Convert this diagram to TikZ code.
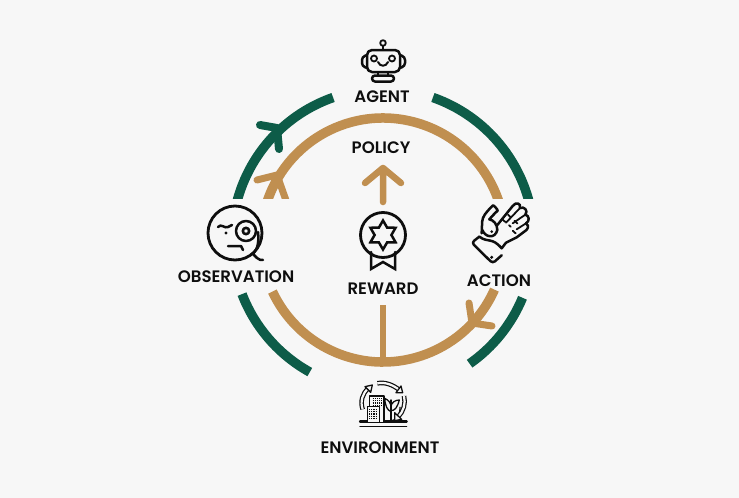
\documentclass[tikz,border=0pt]{standalone}
\usepackage{fontspec}
\setmainfont{Poppins SemiBold}
\definecolor{bgc}{HTML}{F7F7F7}
\definecolor{grn}{HTML}{0D5C48}
\definecolor{tan1}{HTML}{C08F50}
\definecolor{ink}{HTML}{0E0E0E}
\tikzset{
  lbl/.style={font=\fontsize{16.6}{19}\selectfont,text=ink,inner sep=0pt},
  grnarc/.style={draw=grn,line width=9.5pt,line cap=butt},
  tanarc/.style={draw=tan1,line width=9.5pt,line cap=butt},
  grnbarb/.style={draw=grn,line width=8pt,line cap=round},
  tanbarb/.style={draw=tan1,line width=7pt,line cap=round},
  icon/.style={draw=ink,line width=2.5pt,line cap=round,line join=round},
  iconthin/.style={draw=ink,line width=1.3pt,line cap=round,line join=round},
  zoomed/.style={x=0.33333pt,y=-0.33333pt}
}
\begin{document}
\begin{tikzpicture}[x=1pt,y=1pt]
\useasboundingbox (0,0) rectangle (739,-498);
\fill[bgc] (0,0) rectangle (739,-498);
\coordinate (c) at (383,-240);
% labels
\node[lbl] (agent) at (382,-96.5) {AGENT};
\node[lbl] (policy) at (381,-147.5) {POLICY};
\node[lbl] (reward) at (383,-288.5) {REWARD};
\node[lbl] (observation) at (236,-276.5) {OBSERVATION};
\node[lbl] (action) at (499,-280.5) {ACTION};
\node[lbl] (environment) at (380,-447.5) {ENVIRONMENT};
% upper arcs cut flat at y=198
\begin{scope}
\clip (0,0) rectangle (739,-198);
\draw[grnarc] (c) ++(172:151) arc (172:109.3:151);
\draw[grnarc] (c) ++(70.7:151) arc (70.7:8:151);
\draw[tanarc] (c) ++(172:122) arc (172:8:122);
\coordinate (gt) at (277,-128);
\coordinate (tt) at (277,-175);
\coordinate (tb1) at (257,-180);
\coordinate (tb2) at (288,-206);
\draw[tanbarb] (tt) -- (tb1);
\draw[tanbarb,line cap=butt] (tt) -- (tb2);
\end{scope}
\coordinate (gb1) at (260,-125);
\coordinate (gb2) at (279,-149);
\draw[grnbarb] (gt) -- (gb1);
\draw[grnbarb] (gt) -- (gb2);
% lower arcs
\draw[grnarc] (c) ++(-22.5:151) arc (-22.5:-55:151);
\draw[grnarc] (c) ++(-159:151) arc (-159:-119:151);
\draw[tanarc] (c) ++(-24:122) arc (-24:-155:122);
\coordinate (ta) at (472,-323);
\coordinate (ta1) at (469,-303);
\coordinate (ta2) at (492,-326);
\draw[tanbarb] (ta) -- (ta1);
\draw[tanbarb] (ta) -- (ta2);
% reward connectors
\coordinate (ub) at (383,-202);
\coordinate (ut) at (383,-168);
\coordinate (ul) at (365,-183);
\coordinate (ur) at (401,-183);
\draw[draw=tan1,line width=6.5pt,line cap=round,line join=round] (ub) -- (ut) (ul) -- (ut) -- (ur);
\coordinate (vt) at (383,-305);
\coordinate (vb) at (383,-362);
\draw[draw=tan1,line width=6.5pt] (vt) -- (vb);
% robot
\begin{scope}
\draw[icon,line width=1.8pt] (383,-43) circle (2.8);
\draw[icon,line width=1.8pt] (383,-46) -- (383,-50);
\draw[icon,rounded corners=5pt] (367,-50) rectangle (400,-72);
\draw[icon,rounded corners=3pt] (367,-55) -- (362,-57) -- (362,-66) -- (367,-68);
\draw[icon,rounded corners=3pt] (400,-55) -- (405,-57) -- (405,-66) -- (400,-68);
\draw[icon,line width=1.8pt] (374,-58.5) circle (3);
\draw[icon,line width=1.8pt] (392,-58.5) circle (3);
\draw[icon,line width=2pt] (378,-62) .. controls (380,-67) and (386,-67) .. (388,-62);
\draw[icon,line width=1.8pt] (378,-72) -- (378,-75) (388,-72) -- (388,-75);
\draw[icon,rounded corners=3pt] (372,-75.5) rectangle (394,-81.5);
\end{scope}
% observation face
\begin{scope}
\draw[icon,line width=2.8pt] (235,-233) circle (27);
\fill[bgc] (246,-231) circle (11);
\draw[icon] (246,-231) circle (10);
\draw[icon,line width=2.6pt] (246,-231) circle (3.2);
\draw[icon] (258,-232) .. controls (259,-241) and (258,-249) .. (253,-254) -- (257,-258) .. controls (259,-260) and (261,-260) .. (263,-260);
\draw[icon] (218,-227) .. controls (221,-223) and (225,-229) .. (228,-227) -- (232,-225);
\fill[ink] (226,-233) circle (1.6);
\draw[icon] (228,-246) -- (241,-246) -- (243,-250);
\end{scope}
% reward badge
\begin{scope}
\draw[icon,line width=2.8pt] (383,-235) circle (22.5);
\begin{scope}[shift={(383,-235)}]
\draw[icon,line join=miter] (90:14.5) -- (120:8.4) -- (150:14.5) -- (180:8.4) -- (210:14.5) -- (240:8.4) -- (270:14.5) -- (300:8.4) -- (330:14.5) -- (0:8.4) -- (30:14.5) -- (60:8.4) -- cycle;
\end{scope}
\draw[icon,line join=miter] (371,-252) -- (371,-269) -- (383,-262) -- (395,-269) -- (395,-252);
\end{scope}
% hand
\begin{scope}[xshift=440pt,yshift=-180pt,zoomed]
\draw[icon,rounded corners=3pt] (118,170) -- (95,188) -- (158,250) -- (185,226);
\fill[ink] (155,232) circle (5);
% thumb and palm
\draw[icon,rounded corners=4pt] (125,160) -- (127,113) -- (150,84) .. controls (160,75) and (175,90) .. (164,100) -- (148,118);
\draw[icon] (127,150) .. controls (135,172) and (165,178) .. (172,150) .. controls (172,132) and (160,120) .. (148,118);
\fill[ink] (155,155) circle (4.5);
% wrist
\draw[icon] (118,170) .. controls (145,190) and (155,170) .. (185,205) -- (198,188);
% fingers
\draw[icon] (172,135) -- (218,78) .. controls (228,64) and (244,70) .. (240,84);
\draw[icon] (240,84) .. controls (252,78) and (266,92) .. (256,104);
\draw[icon] (256,104) .. controls (268,106) and (270,124) .. (258,130);
\draw[icon] (258,130) .. controls (270,138) and (262,150) .. (254,154) -- (230,172) -- (198,188);
\draw[icon,line width=1.8pt] (198,128) -- (240,84) (218,130) -- (256,104) (230,148) -- (258,130);
\draw[icon,line width=1.8pt,dash pattern=on 4pt off 5pt] (187,118) -- (212,140) (204,104) -- (235,133) (218,152) -- (238,170);
\end{scope}
% environment
\begin{scope}[xshift=310pt,yshift=-370pt,zoomed]
\draw[icon,line width=2.4pt] (150,155) -- (290,155);
\draw[iconthin] (150,170) -- (290,170);
\draw[iconthin,line width=1.6pt,fill=bgc] (178,155) -- (178,78) -- (222,78) -- (222,155);
\draw[iconthin,line width=1.6pt,fill=bgc] (172,155) -- (172,110) -- (208,110) -- (208,155);
\foreach \yy in {85,92,99,106}{\draw[ink,line width=1.2pt,dash pattern=on 1.2pt off 1pt] (188,\yy) -- (216,\yy);}
\foreach \yy in {118,125,132,139,146}{\draw[ink,line width=1.2pt,dash pattern=on 1.2pt off 1pt] (177,\yy) -- (203,\yy);}
\draw[iconthin,line width=1.5pt] (243,155) -- (243,90);
\draw[iconthin] (243,125) .. controls (232,120) and (226,110) .. (224,85) .. controls (236,90) and (243,100) .. (243,110);
\draw[iconthin] (243,122) .. controls (255,122) and (262,112) .. (268,90) .. controls (255,90) and (245,98) .. (243,108);
\draw[iconthin] (245,152) .. controls (262,150) and (270,135) .. (270,112);
% circular arrows
\draw[ink,line width=4.6pt] (202,40) .. controls (225,35) and (250,45) .. (268,60);
\draw[bgc,line width=2.2pt] (202,40) .. controls (225,35) and (250,45) .. (268,60);
\draw[iconthin,fill=bgc] (258,68) -- (278,68) -- (273,48) -- cycle;
\draw[ink,line width=4.6pt] (158,118) .. controls (150,95) and (157,70) .. (175,55);
\draw[bgc,line width=2.2pt] (158,118) .. controls (150,95) and (157,70) .. (175,55);
\draw[iconthin,fill=bgc] (165,50) -- (187,45) -- (182,67) -- cycle;
\draw[ink,line width=4.6pt] (282,78) .. controls (288,100) and (280,125) .. (265,140);
\draw[bgc,line width=2.2pt] (282,78) .. controls (288,100) and (280,125) .. (265,140);
\draw[iconthin,fill=bgc] (254,128) -- (275,148) -- (254,152) -- cycle;
\end{scope}
\end{tikzpicture}
\end{document}
